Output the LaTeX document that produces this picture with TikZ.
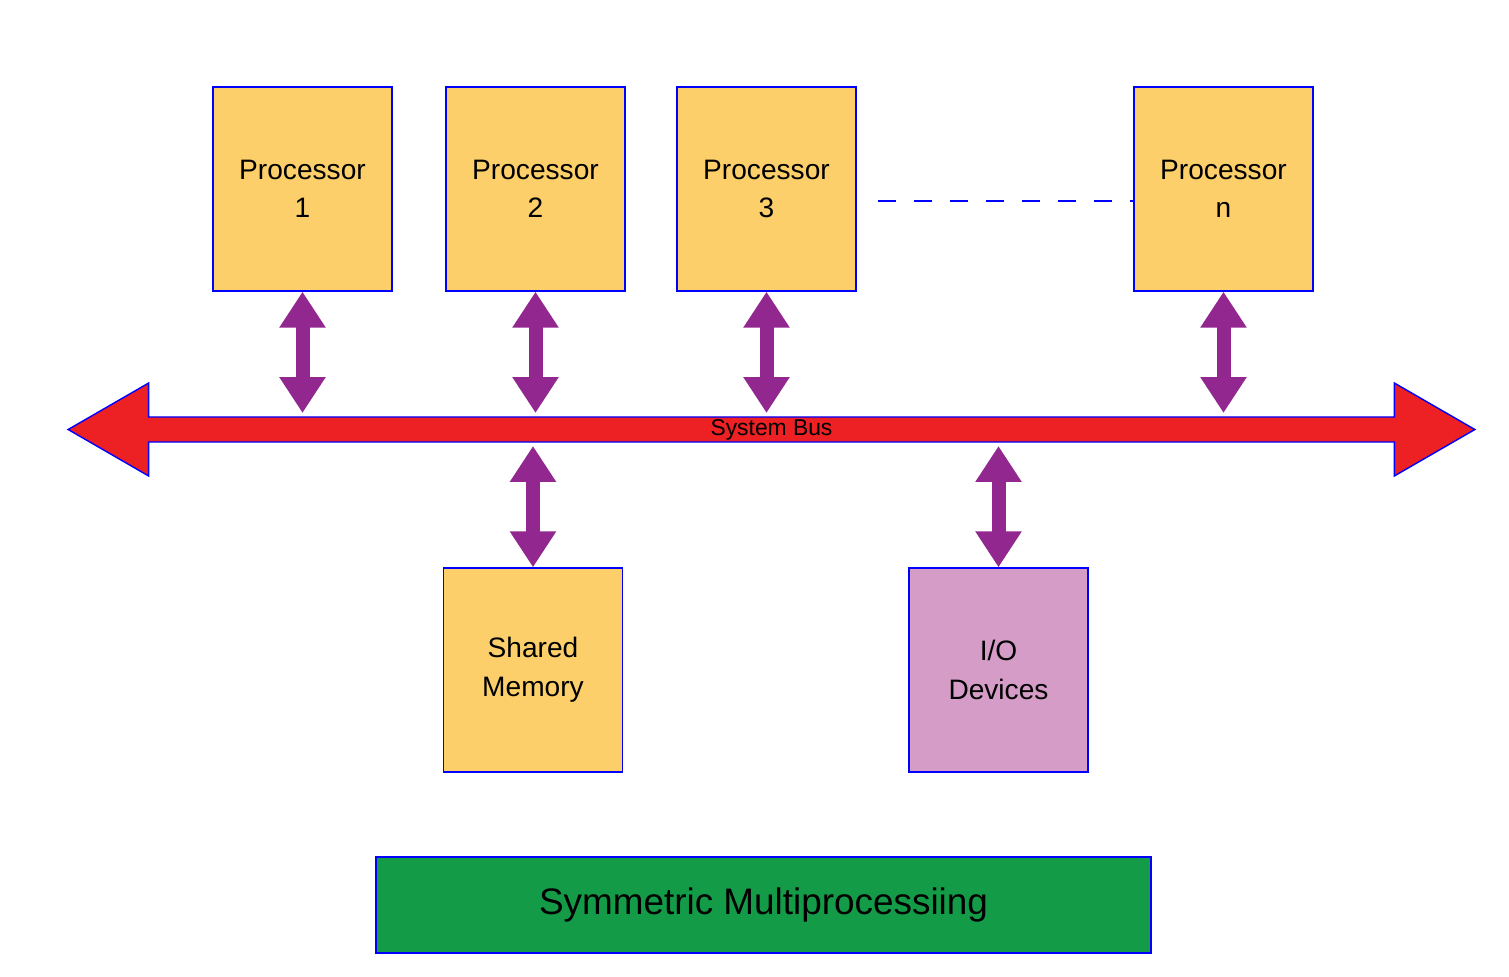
\documentclass[tikz,border=0pt]{standalone}
\usepackage{fontspec}
\setmainfont{Liberation Sans}
\usetikzlibrary{shapes,shapes.arrows,arrows.meta,positioning}
\definecolor{procfill}{HTML}{FCCF6A}
\definecolor{iofill}{HTML}{D49CC6}
\definecolor{busred}{HTML}{ED2024}
\definecolor{linkpurple}{HTML}{92278F}
\definecolor{titlegreen}{HTML}{149B48}

\begin{document}
\begin{tikzpicture}[
    x=0.02cm, y=-0.02cm,
    unit/.style={rectangle, draw=blue, thick, fill=procfill, minimum width=3.58cm, minimum height=4.08cm, align=center, font=\fontsize{16}{22}\selectfont, inner sep=0pt},
    link/.style={linkpurple, line width=0.28cm, {Triangle[length=0.72cm,width=0.88cm]}-{Triangle[length=0.72cm,width=0.88cm]}, shorten <=0pt, shorten >=0pt}
]
\useasboundingbox (0,0) rectangle (1509,977);

% Processors
\node[unit] (p1) at (302.5,189) {Processor\\1};
\node[unit] (p2) at (535.5,189) {Processor\\2};
\node[unit] (p3) at (766.5,189) {Processor\\3};
\node[unit] (pn) at (1223.5,189) {Processor\\n};
\draw[blue, thick, dash pattern=on 0.36cm off 0.36cm] (p3.east) ++(21,12) coordinate (d1) -- (d1 -| pn.west);

% System bus
\node[double arrow, draw=blue, thick, fill=busred, minimum height=28.14cm, minimum width=1.86cm,
      double arrow head extend=0.6cm, double arrow tip angle=60, inner sep=0pt,
      font=\fontsize{13}{15}\selectfont] (bus) at (771.5,429.5) {System Bus};

% Memory and devices
\node[unit] (mem) at (533,670) {Shared\\Memory};
\node[unit, fill=iofill] (io) at (998.5,670) {I/O\\Devices};

% Links
\foreach \p in {p1,p2,p3,pn}
    \draw[link] (\p.south) -- (\p.south |- 0,413);
\draw[link] (mem.north) -- (mem.north |- 0,446);
\draw[link] (io.north) -- (io.north |- 0,446);

% Title
\node[rectangle, draw=blue, thick, fill=titlegreen, minimum width=15.5cm, minimum height=1.92cm,
      font=\fontsize{21}{25}\selectfont] (title) at (763.5,905) {Symmetric Multiprocessiing};
\end{tikzpicture}
\end{document}
